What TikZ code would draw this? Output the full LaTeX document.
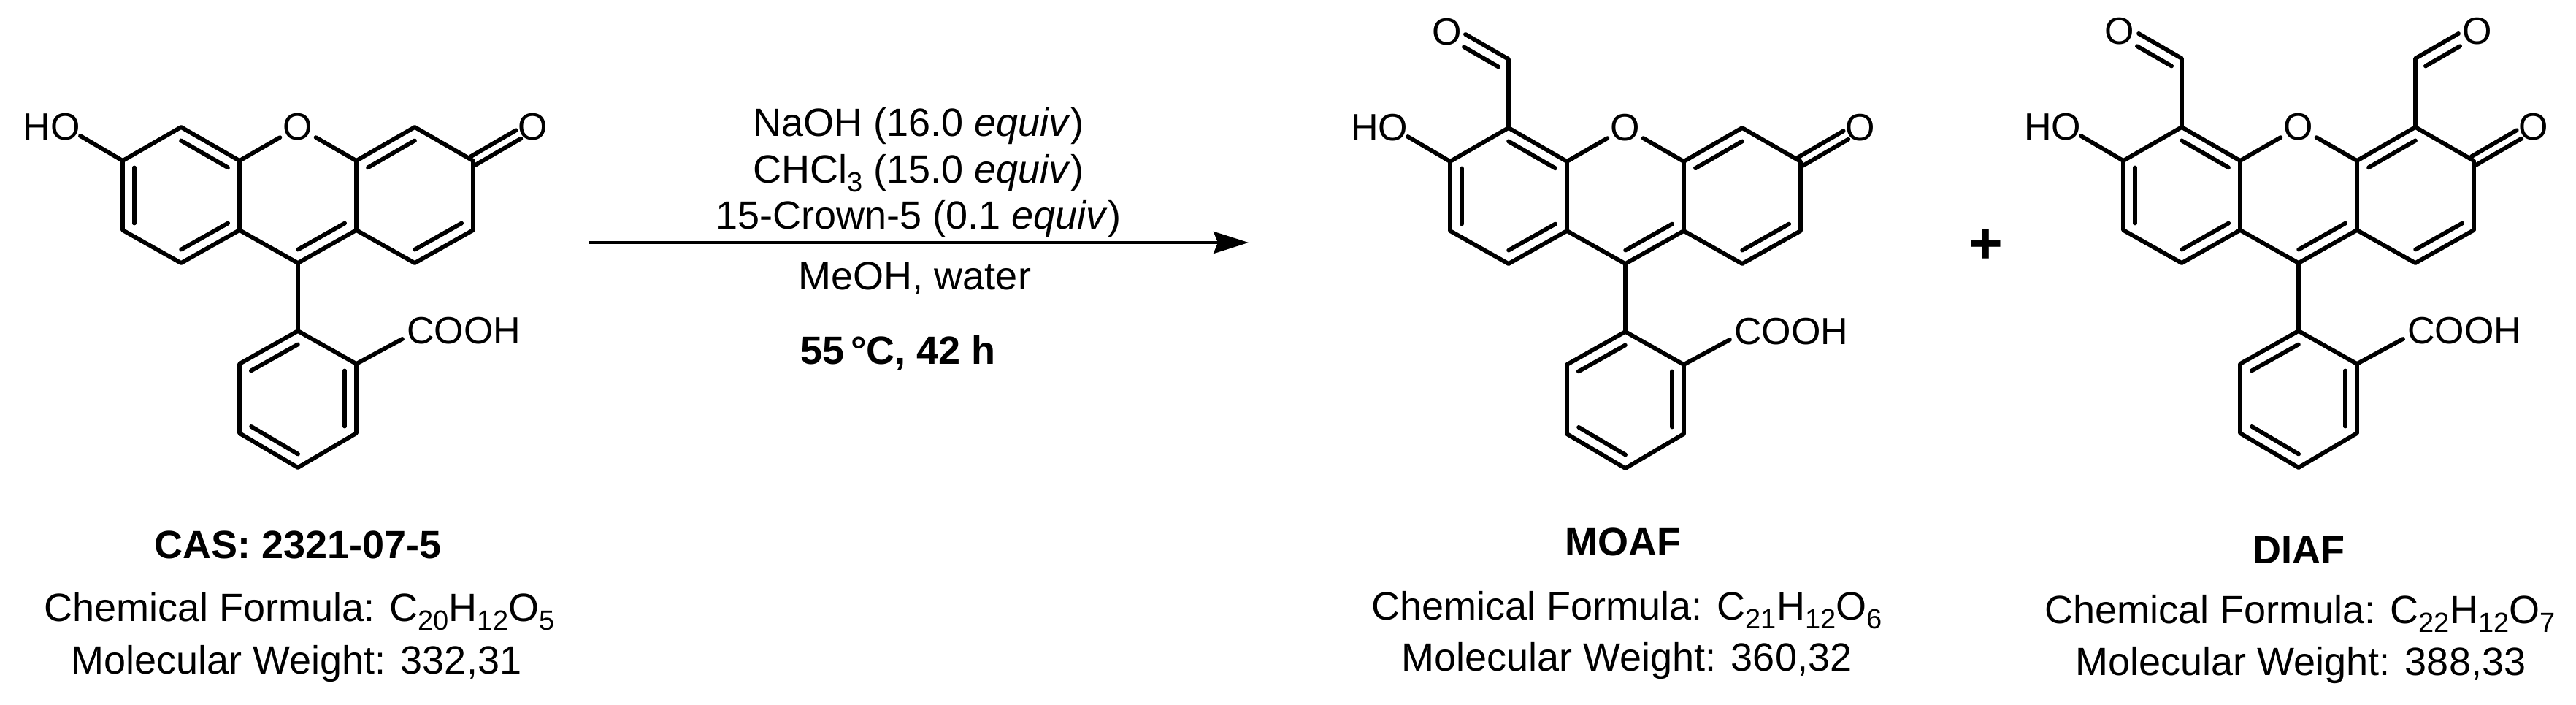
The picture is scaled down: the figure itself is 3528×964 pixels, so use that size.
\documentclass[tikz,border=0pt]{standalone}
\usepackage{fontspec}
\setmainfont{Liberation Sans}
\usetikzlibrary{calc,arrows.meta}
\newcommand\subs[1]{\raisebox{-6pt}{\fontsize{19}{19}\selectfont #1}}
\newcommand\dbl[3]{\draw[bond] ($(#1)!.1!(#2)!8pt!#3:(#2)$) -- ($(#2)!.1!(#1)!8pt!-#3:(#1)$);}
\newcommand\carb[2]{%
  \draw[bond] ($(#1)!3.3pt!90:(#2)$) -- ($(#2)!3.3pt!-90:(#1)$);
  \draw[bond] ($(#1)!3.3pt!-90:(#2)$) -- ($(#2)!3.3pt!90:(#1)$);}
\newcommand\fluo[3]{%
 \begin{scope}[shift={(#2,#3)}]
  \coordinate (#1a) at (-240,-140); \coordinate (#1b) at (-160,-186);
  \coordinate (#1c) at (-80,-140);  \coordinate (#1d) at (80,-140);
  \coordinate (#1e) at (160,-186);  \coordinate (#1f) at (240,-140);
  \coordinate (#1g) at (240,-45);   \coordinate (#1h) at (160,0);
  \coordinate (#1i) at (80,-45);    \coordinate (#1j) at (0,0);
  \coordinate (#1k) at (-80,-45);   \coordinate (#1l) at (-160,0);
  \coordinate (#1m) at (-240,-45);
  \coordinate (#1n) at (0,93);      \coordinate (#1o) at (80,138);
  \coordinate (#1p) at (80,233);    \coordinate (#1q) at (0,280);
  \coordinate (#1r) at (-80,233);   \coordinate (#1s) at (-80,138);
  \coordinate (#1hoend) at (-298,-174);
  \coordinate (#1koend) at (302,-176);
  \coordinate (#1coend) at (143,104);
  \node[atom] (#1ho) at (-337,-186) {HO};
  \node[atom] (#1ox) at (0,-186) {O};
  \node[atom] (#1ko) at (322,-186) {O};
  \node[atom,anchor=west] (#1cooh) at (145,93) {COOH};
  \draw[bond] (#1a)--(#1b)--(#1c)--(#1k)--(#1l)--(#1m)--cycle;
  \draw[bond] (#1d)--(#1e)--(#1f)--(#1g)--(#1h)--(#1i)--cycle;
  \draw[bond] (#1k)--(#1j)--(#1i);
  \draw[bond] (#1c)--(#1ox);
  \draw[bond] (#1d)--(#1ox);
  \draw[bond] (#1j)--(#1n);
  \draw[bond] (#1n)--(#1o)--(#1p)--(#1q)--(#1r)--(#1s)--cycle;
  \draw[bond] (#1a)--(#1hoend);
  \draw[bond] (#1o)--(#1coend);
  \carb{#1f}{#1koend}
  \dbl{#1a}{#1m}{90}
  \dbl{#1c}{#1b}{90}
  \dbl{#1l}{#1k}{90}
  \dbl{#1j}{#1i}{90}
  \dbl{#1h}{#1g}{90}
  \dbl{#1e}{#1d}{90}
  \dbl{#1r}{#1q}{90}
  \dbl{#1p}{#1o}{90}
  \dbl{#1n}{#1s}{90}
 \end{scope}}
\newcommand\cho[5]{% name, ring atom, sign, O offset x, end offset x
  \coordinate (#1c) at ($(#2)+(0,-94)$);
  \coordinate (#1e) at ($(#1c)+(#5,-34)$);
  \node[atom] (#1o) at ($(#1c)+(#4,-37)$) {O};
  \draw[bond] (#2)--(#1c)--(#1e);
  \dbl{#1c}{#1e}{#3}}
\tikzset{
  x=.5pt,y=-.5pt,
  bond/.style={line width=2.9pt,line cap=round,line join=round,black},
  atom/.style={inner sep=2pt,font=\fontsize{26}{26}\selectfont},
  txt/.style={inner sep=0pt,anchor=base,font=\fontsize{27}{27}\selectfont},
  bld/.style={inner sep=0pt,anchor=base,font=\fontsize{27}{27}\selectfont\bfseries}
}
\begin{document}
\begin{tikzpicture}
\useasboundingbox (0,0) rectangle (3528,964);
\fill[white] (0,0) rectangle (3528,964);
\fluo{A}{408}{360}
\fluo{B}{2226}{361}
\fluo{C}{3148}{360}
\cho{Bl}{Bb}{90}{-84}{-59}
\cho{Cl}{Cb}{90}{-85}{-59}
\cho{Cr}{Ce}{-90}{85}{59}
% arrow
\coordinate (arrS) at (807,332);
\coordinate (arrE) at (1710,332);
\draw[line width=2.2pt,-{Stealth[length=24pt,width=15pt,inset=3pt]}] (arrS) -- (arrE);
\node[txt] (r1) at (1258,186) {NaOH (16.0 \textit{equiv})};
\node[txt] (r2) at (1258,250) {CHCl\subs{3} (15.0 \textit{equiv})};
\node[txt] (r3) at (1258,313) {15-Crown-5 (0.1 \textit{equiv})};
\node[txt] (r4) at (1253,396) {MeOH, water};
\node[bld] (r5) at (1230,498) {55\,°C, 42 h};
\node[inner sep=0pt,font=\fontsize{40}{40}\selectfont\bfseries] (plus) at (2720,337) {+};
% labels
\node[bld] (l1) at (408,764) {CAS: 2321-07-5};
\node[txt] (l2) at (410,850) {Chemical Formula: C\subs{20}H\subs{12}O\subs{5}};
\node[txt] (l3) at (406,922) {Molecular Weight: 332,31};
\node[bld] (m1) at (2223,760) {MOAF};
\node[txt] (m2) at (2228,848) {Chemical Formula: C\subs{21}H\subs{12}O\subs{6}};
\node[txt] (m3) at (2228,918) {Molecular Weight: 360,32};
\node[bld] (d1) at (3148,771) {DIAF};
\node[txt] (d2) at (3150,853) {Chemical Formula: C\subs{22}H\subs{12}O\subs{7}};
\node[txt] (d3) at (3151,924) {Molecular Weight: 388,33};
\end{tikzpicture}
\end{document}
